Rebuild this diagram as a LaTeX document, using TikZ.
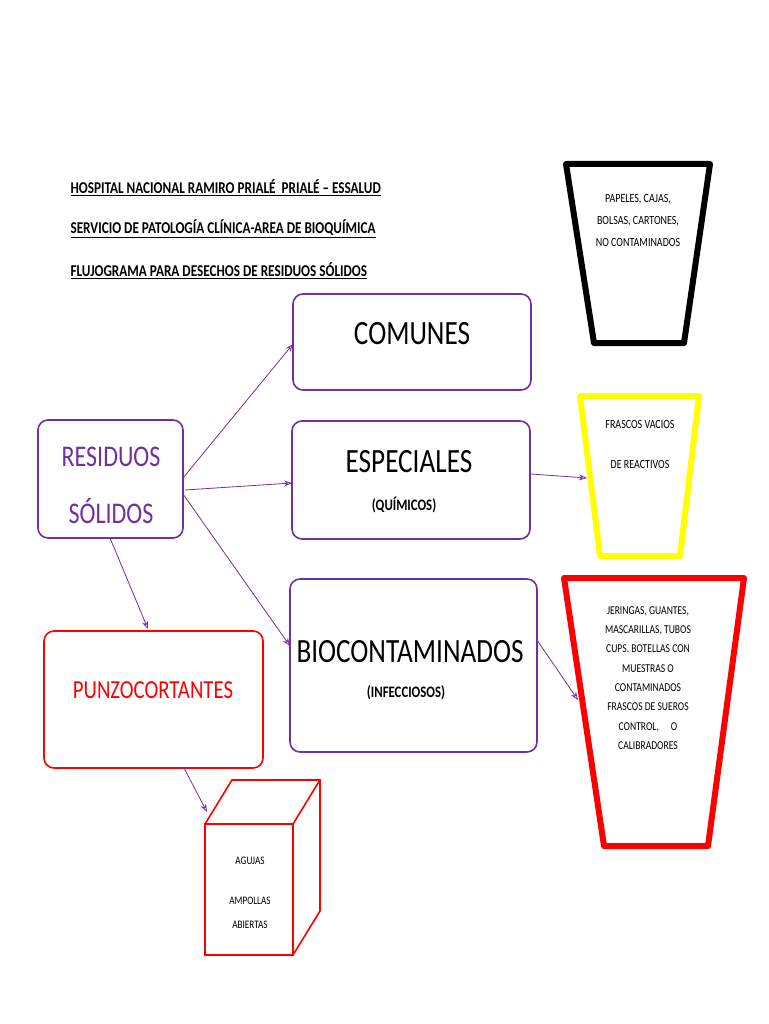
\documentclass[tikz,border=0pt]{standalone}
\usepackage{fontspec}
\setmainfont{Carlito}[FakeStretch=0.8]
\usetikzlibrary{arrows.meta}
\definecolor{pur}{RGB}{112,48,160}
\definecolor{yel}{RGB}{255,255,0}
\definecolor{rd}{RGB}{255,0,0}
\tikzset{
 box/.style={draw=pur,line width=1.6pt,rounded corners=10pt},
 big/.style={font=\fontsize{34}{36}\selectfont},
 arr/.style={draw=pur,line width=0.8pt,-{Stealth[length=8pt,width=6pt,open]}},
 ttl/.style={anchor=west,font=\bfseries\fontsize{16.5}{18}\selectfont},
 small/.style={font=\fontsize{12.5}{14}\selectfont,align=center},
}
\begin{document}
\begin{tikzpicture}[x=1pt,y=-1pt]
\useasboundingbox (0,0) rectangle (768,1024);
\node[ttl] (t1) at (67,188) {\underline{HOSPITAL NACIONAL RAMIRO PRIALÉ\ \ PRIALÉ – ESSALUD}};
\node[ttl] (t2) at (67,229) {\underline{SERVICIO DE PATOLOGÍA CLÍNICA-AREA DE BIOQUÍMICA}};
\node[ttl] (t3) at (67,271) {\underline{FLUJOGRAMA PARA DESECHOS DE RESIDUOS SÓLIDOS}};

\draw[box] (293,294) rectangle (531,390);
\node[big] (com) at (412,334) {COMUNES};
\coordinate (comL) at (293,344);
\draw[box] (292,421) rectangle (530,539);
\node[big] (esp) at (409,462) {ESPECIALES};
\node[font=\bfseries\fontsize{16}{18}\selectfont] (qui) at (404,505) {(QUÍMICOS)};
\coordinate (espL) at (292,483); \coordinate (espR) at (531,474);
\draw[box] (290,579) rectangle (537,752);
\node[big] (bio) at (410,652) {BIOCONTAMINADOS};
\node[font=\bfseries\fontsize{16}{18}\selectfont] (inf) at (406,693) {(INFECCIOSOS)};
\coordinate (bioL) at (290,646); \coordinate (bioR) at (537,640);
\draw[box] (38,420) rectangle (183,538);
\node[font=\fontsize{30}{32}\selectfont,text=pur] (res1) at (111,457) {RESIDUOS};
\node[font=\fontsize{30}{32}\selectfont,text=pur] (res2) at (111,511) {SÓLIDOS};
\coordinate (r1) at (183,478); \coordinate (r2) at (185,490); \coordinate (r3) at (183,494); \coordinate (r4) at (110,538);
\draw[draw=rd,line width=1.6pt,rounded corners=10pt] (44,631) rectangle (263,768);
\node[font=\fontsize{26}{28}\selectfont,text=rd] (pun) at (153,690) {PUNZOCORTANTES};
\coordinate (pT) at (148,629); \coordinate (pB) at (184,768);

% cube
\draw[rd,line width=1.6pt] (205,824) rectangle (293,955);
\draw[rd,line width=1.6pt] (205,824) -- (232,780) -- (320,780) -- (320,911) -- (293,955);
\draw[rd,line width=1.6pt] (293,824) -- (320,780);
\coordinate (cube) at (207,812);
\node[small,font=\fontsize{11.5}{12}\selectfont] (ag) at (250,861) {AGUJAS};
\node[small,font=\fontsize{11.5}{12}\selectfont] (am) at (250,901) {AMPOLLAS};
\node[small,font=\fontsize{11.5}{12}\selectfont] (ab) at (250,925) {ABIERTAS};

% bins
\draw[black,line width=6pt,line join=round] (566,164) -- (710,164) -- (684,343) -- (594,343) -- cycle;
\node[small,font=\fontsize{12.5}{22}\selectfont] (b1) at (638,220) {PAPELES, CAJAS,\\BOLSAS, CARTONES,\\NO CONTAMINADOS};
\draw[yel,line width=6pt,line join=round] (580,396) -- (699,396) -- (680,556) -- (600,556) -- cycle;
\node[small] (y1) at (640,424) {FRASCOS VACIOS};
\node[small] (y2) at (640,464) {DE REACTIVOS};
\coordinate (yb) at (587,478);
\draw[rd,line width=6pt,line join=round] (564,578) -- (744,578) -- (708,846) -- (604,846) -- cycle;
\node[small,font=\fontsize{12}{19.3}\selectfont] (rb) at (648,678) {JERINGAS, GUANTES,\\MASCARILLAS, TUBOS\\CUPS. BOTELLAS CON\\MUESTRAS O\\CONTAMINADOS\\FRASCOS DE SUEROS\\CONTROL,\quad O\\CALIBRADORES};
\coordinate (rbL) at (578,700);

\draw[arr] (r1) -- (comL);
\draw[arr] (r2) -- (espL);
\draw[arr] (r3) -- (bioL);
\draw[arr] (r4) -- (pT);
\draw[arr] (espR) -- (yb);
\draw[arr] (bioR) -- (rbL);
\draw[arr] (pB) -- (cube);
\end{tikzpicture}
\end{document}
